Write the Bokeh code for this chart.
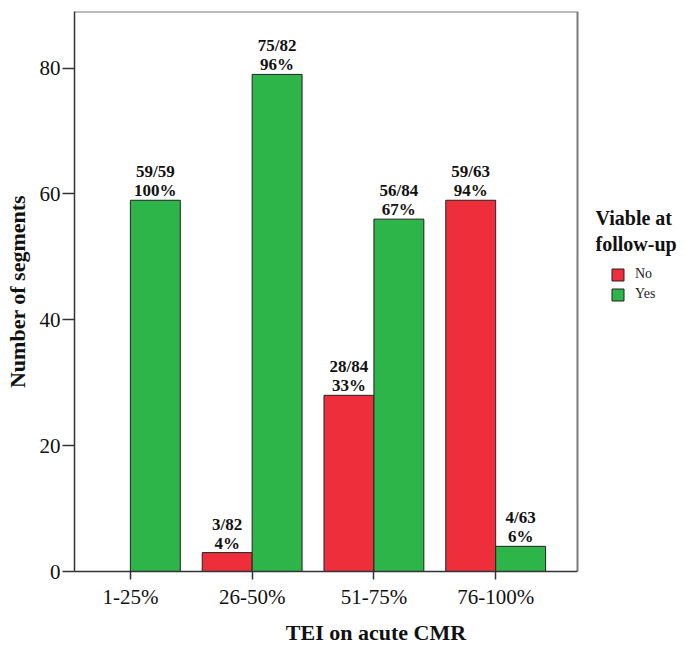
from bokeh.plotting import figure
from bokeh.models import ColumnDataSource, FixedTicker, Legend, LegendItem, Label, Range1d
from bokeh.transform import dodge
from bokeh.core.properties import value
from bokeh.embed import file_html
from bokeh.resources import INLINE

categories = ["1-25%", "26-50%", "51-75%", "76-100%"]
no_counts = [0, 3, 28, 59]
yes_counts = [59, 79, 56, 4]
no_labels = ["", "3/82\n4%", "28/84\n33%", "59/63\n94%"]
yes_labels = ["59/59\n100%", "75/82\n96%", "56/84\n67%", "4/63\n6%"]

FONT = "Liberation Serif"
RED = "#ee2f3b"
GREEN = "#2db54a"

# plot box in data units; the frame runs on past x_hi so the legend isn't clipped
x_lo, x_hi = 0.541, 4.672
y_lo, y_hi = 0, 89
x_end = x_lo + 603 / (503 / (x_hi - x_lo))

pos = list(range(1, len(categories) + 1))
src = ColumnDataSource(dict(x=pos, no=no_counts, yes=yes_counts,
                            no_lab=no_labels, yes_lab=yes_labels))

p = figure(width=677, height=647, output_backend="svg", toolbar_location=None,
           x_range=Range1d(x_lo, x_end), y_range=Range1d(y_lo, y_hi),
           min_border_left=74, min_border_right=0, min_border_top=11,
           min_border_bottom=75)
p.grid.visible = False
p.outline_line_color = None

# top and right edges of the box
p.line(x=[x_lo, x_hi, x_hi], y=[y_hi, y_hi, y_lo], line_color="#7a7a7a", line_width=2)

bw = 0.41
r_no = p.vbar(x=dodge("x", -bw / 2, range=p.x_range), top="no", width=bw, source=src,
              fill_color=RED, line_color="#222222", line_width=1)
r_yes = p.vbar(x=dodge("x", bw / 2, range=p.x_range), top="yes", width=bw, source=src,
               fill_color=GREEN, line_color="#222222", line_width=1)

for col, lab, off in (("no", "no_lab", -bw / 2), ("yes", "yes_lab", bw / 2)):
    p.text(x=dodge("x", off, range=p.x_range), y=col, text=lab, source=src,
           text_align="center", text_baseline="bottom", y_offset=0,
           text_font=value(FONT), text_font_style="bold", text_font_size="17px",
           text_line_height=1.0, text_color="#111111")

p.xaxis.ticker = FixedTicker(ticks=pos)
p.xaxis.major_label_overrides = {i: c for i, c in zip(pos, categories)}
p.xaxis.bounds = (x_lo, x_hi)
p.yaxis.ticker = FixedTicker(ticks=[0, 20, 40, 60, 80])

for ax in (p.xaxis, p.yaxis):
    ax.axis_line_color = "#333333"
    ax.axis_line_width = 1.5
    ax.major_tick_line_color = "#333333"
    ax.major_tick_line_width = 1.5
    ax.major_tick_in = 0
    ax.minor_tick_line_color = None
    ax.major_label_text_font = FONT
    ax.major_label_text_font_size = "21px"
    ax.major_label_text_color = "#111111"
    ax.axis_label_text_font = FONT
    ax.axis_label_text_font_size = "22px"
    ax.axis_label_text_font_style = "bold"
    ax.axis_label_text_color = "#111111"

p.xaxis.axis_label = "TEI on acute CMR"
p.xaxis.major_tick_out = 8
p.xaxis.major_label_standoff = 5
p.xaxis.axis_label_standoff = 8
p.yaxis.axis_label = "Number of segments"
p.yaxis.major_tick_out = 12
p.yaxis.major_label_standoff = 2
p.yaxis.axis_label_standoff = 7

legend = Legend(items=[LegendItem(label="No", renderers=[r_no]),
                       LegendItem(label="Yes", renderers=[r_yes])],
                location=(536, 269), padding=0, margin=0, spacing=4,
                glyph_width=15, glyph_height=15, label_height=15,
                label_standoff=10, border_line_color=None,
                background_fill_alpha=0,
                label_text_font=FONT, label_text_font_size="14px",
                label_text_color="#222222")
p.add_layout(legend)

p.add_layout(Label(x=521, y=365, x_units="screen", y_units="screen",
                   text="Viable at\nfollow-up", text_font=FONT,
                   text_font_size="20px", text_font_style="bold",
                   text_baseline="top", text_line_height=1.2,
                   text_color="#111111"))

open("out.html", "w").write(file_html(p, INLINE))
